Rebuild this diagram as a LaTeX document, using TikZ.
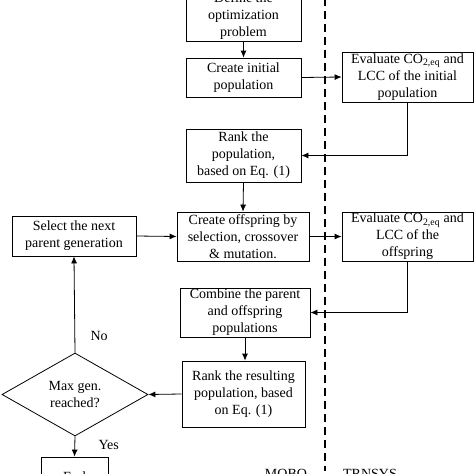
\documentclass[tikz,border=0pt]{standalone}
\usepackage{fontspec}
\setmainfont{Liberation Serif}
\usetikzlibrary{shapes.geometric, arrows.meta}

\begin{document}
\begin{tikzpicture}[x=1pt, y=-1pt, >={Latex[length=7pt,width=6pt]}, line width=0.8pt,
flowbox/.style= {rectangle, align=center, draw=black, inner sep=1pt, font=\fontsize{14}{17}\selectfont},
decision/.style= {diamond, align=center, draw=black, inner sep=0pt, minimum width=146pt, minimum height=83pt, font=\fontsize{14}{17}\selectfont},
lbl/.style= {font=\fontsize{14}{16}\selectfont} ]
\useasboundingbox (0,0) rectangle (474,474);
\node (D) [flowbox, minimum width=115pt, minimum height=45pt] at (243.5,16.5) {Define the\\optimization\\problem};
\node (C) [flowbox, minimum width=115pt, minimum height=39pt] at (243.5,77.5) {Create initial\\population};
\node (E1) [flowbox, minimum width=131pt, minimum height=50pt] at (407.5,77) {Evaluate CO\textsubscript{2,eq} and\\LCC of the initial\\population};
\node (R1) [flowbox, minimum width=115pt, minimum height=53pt] at (243.5,155.5) {Rank the\\population,\\based on Eq. (1)};
\node (O) [flowbox, minimum width=132pt, minimum height=49pt] at (243,236.5) {Create offspring by\\selection, crossover\\\& mutation.};
\node (E2) [flowbox, minimum width=131pt, minimum height=49pt] at (407.5,236.5) {Evaluate CO\textsubscript{2,eq} and\\LCC of the\\offspring};
\node (S) [flowbox, minimum width=124pt, minimum height=40pt] at (74,236) {Select the next\\parent generation};
\node (M) [flowbox, minimum width=130pt, minimum height=49pt] at (245,312.5) {Combine the parent\\and offspring\\populations};
\node (R2) [flowbox, minimum width=123pt, minimum height=66pt] at (243.5,394) {Rank the resulting\\population, based\\on Eq. (1)};
\node (G) [decision] at (75,394.5) {Max gen.\\reached?};
\node (X) [flowbox, minimum width=67pt, minimum height=40pt] at (74.5,477) {End};
\node (MOBO) [lbl, anchor=north] at (286,465) {MOBO};
\node (TRN) [lbl, anchor=north] at (370,465) {TRNSYS};
% boundary between the two tools
\draw[line width=1.7pt, dash pattern=on 8pt off 5pt] (325,-2) -- (325,471);
\draw[->] (D.south) -- (C.north);
\draw[->] (C.east) -- (E1.west);
\draw[->] (E1.south) |- (R1.east);
\draw[->] (R1.south) -- (O.north);
\draw[->] (O.east) -- (E2.west);
\draw[->] (E2.south) |- (M.east);
\draw[->] (M.south) -- (M.south |- R2.north);
\draw[->] (R2.west) -- (G.east);
\draw[->] (G.north) -- node[lbl, right=12pt, pos=0.17] {No} (S.south);
\draw[->] (S.east) -- (O.west);
\draw[->] (G.south) -- node[lbl, right=20pt, pos=0.4] {Yes} (X.north);
\end{tikzpicture}
\end{document}
